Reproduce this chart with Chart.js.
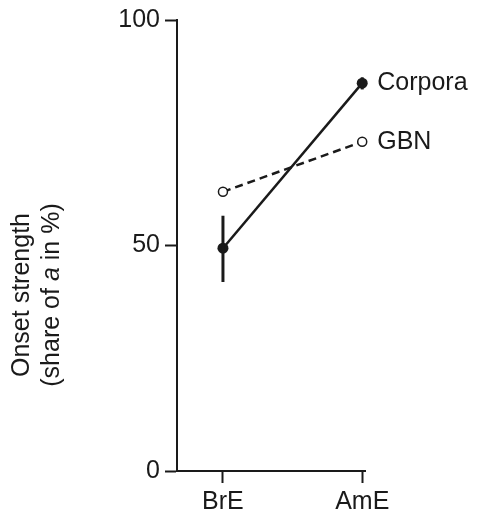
<!DOCTYPE html>
<html><head><meta charset="utf-8">
<script src="https://cdn.jsdelivr.net/npm/chart.js@4"></script>
<style>html,body{margin:0;padding:0;background:#fff}#w{width:498px;height:531px}</style>
</head><body><div id="w"><canvas id="c"></canvas></div>
<script>
const categories = ['BrE', 'AmE'];
const corpora = [49.4, 86];
const corporaLow = [41.9, 84.6];
const corporaHigh = [56.6, 87.3];
const gbn = [61.9, 73];
const seriesNames = ['Corpora', 'GBN'];
const yTicks = [0, 50, 100];

const F = 'Liberation Sans, Arial, sans-serif';
const extras = {
  id: 'extras',
  afterDatasetsDraw(chart) {
    const {ctx, scales: {x, y}} = chart;
    ctx.save();
    ctx.strokeStyle = '#1a1a1a'; ctx.lineWidth = 3;
    corpora.forEach((v, i) => {
      const px = x.getPixelForValue(i);
      ctx.beginPath();
      ctx.moveTo(px, y.getPixelForValue(corporaLow[i]));
      ctx.lineTo(px, y.getPixelForValue(corporaHigh[i]));
      ctx.stroke();
    });
    ctx.fillStyle = '#1a1a1a';
    ctx.font = '25px ' + F;
    ctx.textBaseline = 'middle';
    const last = categories.length - 1;
    ctx.fillText(seriesNames[0], x.getPixelForValue(last) + 15, y.getPixelForValue(corpora[last]));
    ctx.fillText(seriesNames[1], x.getPixelForValue(last) + 15, y.getPixelForValue(gbn[last]));
    // y-axis title with italic "a"
    ctx.translate(0, 295);
    ctx.rotate(-Math.PI / 2);
    ctx.textAlign = 'center';
    ctx.fillText('Onset strength', 0, 22);
    const p1 = '(share of ', pa = 'a', p2 = ' in %)';
    ctx.font = '25px ' + F; const w1 = ctx.measureText(p1).width, w3 = ctx.measureText(p2).width;
    ctx.font = 'italic 25px ' + F; const w2 = ctx.measureText(pa).width;
    let sx = -(w1 + w2 + w3) / 2;
    ctx.textAlign = 'left';
    ctx.font = '25px ' + F; ctx.fillText(p1, sx, 52); sx += w1;
    ctx.font = 'italic 25px ' + F; ctx.fillText(pa, sx, 52); sx += w2;
    ctx.font = '25px ' + F; ctx.fillText(p2, sx, 52);
    ctx.restore();
  }
};
const pts = a => a.map((v, i) => ({x: i, y: v}));
new Chart(document.getElementById('c'), {
  type: 'line',
  data: { datasets: [
    { label: seriesNames[0], data: pts(corpora), borderColor: '#1a1a1a', borderWidth: 2.5, clip: false,
      pointRadius: 5.5, pointBackgroundColor: '#1a1a1a', pointBorderColor: '#1a1a1a', pointBorderWidth: 0 },
    { label: seriesNames[1], data: pts(gbn), borderColor: '#1a1a1a', borderWidth: 2.5, borderDash: [8, 5], clip: false,
      pointRadius: 4.5, pointBackgroundColor: '#fff', pointBorderColor: '#1a1a1a', pointBorderWidth: 1.5 }
  ]},
  options: {
    responsive: true, maintainAspectRatio: false, animation: false,
    layout: { padding: { top: 17, right: 133, bottom: 10, left: 0 } },
    plugins: { legend: { display: false }, tooltip: { enabled: false } },
    scales: {
      x: { type: 'linear', min: -0.33, max: 1.02,
        afterBuildTicks: s => { s.ticks = categories.map((c, i) => ({value: i})); },
        ticks: { callback: v => categories[v], color: '#1a1a1a', font: { family: F, size: 25 }, padding: 4 },
        grid: { display: true, drawOnChartArea: false, drawTicks: true, tickLength: 12, color: '#1a1a1a', tickColor: '#1a1a1a', tickWidth: 2 },
        border: { color: '#1a1a1a', width: 2 } },
      y: { min: 0, max: 100,
        afterFit: s => { s.width = 177; },
        afterBuildTicks: s => { s.ticks = yTicks.map(v => ({value: v})); },
        ticks: { color: '#1a1a1a', font: { family: F, size: 25 }, padding: 5 },
        grid: { display: true, drawOnChartArea: false, drawTicks: true, tickLength: 12, color: '#1a1a1a', tickColor: '#1a1a1a', tickWidth: 2 },
        border: { color: '#1a1a1a', width: 2 } }
    }
  },
  plugins: [extras]
});
</script></body></html>
